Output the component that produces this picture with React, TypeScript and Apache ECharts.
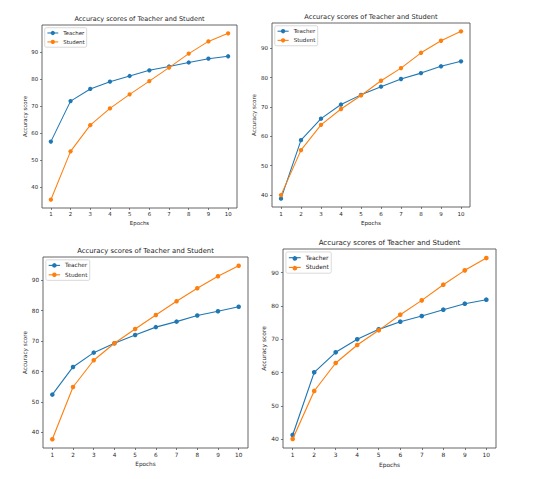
import React, { useEffect, useRef } from 'react';
import * as echarts from 'echarts';

const epochs = [1, 2, 3, 4, 5, 6, 7, 8, 9, 10];
const yTickValues = [40, 50, 60, 70, 80, 90];

const teacher1 = [56.9, 71.9, 76.4, 79.1, 81.2, 83.3, 84.7, 86.2, 87.6, 88.5];
const student1 = [35.4, 53.3, 63.0, 69.2, 74.4, 79.3, 84.3, 89.5, 94.0, 97.0];
const teacher2 = [38.8, 58.7, 66.0, 70.8, 74.1, 76.9, 79.5, 81.5, 83.8, 85.5];
const student2 = [40.0, 55.3, 63.9, 69.3, 73.9, 78.9, 83.2, 88.4, 92.5, 95.7];
const teacher3 = [52.4, 61.5, 66.2, 69.3, 72.0, 74.6, 76.4, 78.4, 79.8, 81.3];
const student3 = [37.7, 54.9, 63.7, 69.3, 74.0, 78.6, 83.1, 87.4, 91.3, 94.8];
const teacher4 = [41.3, 60.1, 66.1, 70.0, 73.0, 75.3, 77.0, 78.9, 80.7, 81.9];
const student4 = [40.1, 54.5, 62.9, 68.3, 72.7, 77.4, 81.7, 86.4, 90.7, 94.4];

const titleText = 'Accuracy scores of Teacher and Student';
const xName = 'Epochs';
const yName = 'Accuracy score';
const seriesNames = ['Teacher', 'Student'];
const seriesColors = ['#1f77b4', '#ff7f0e'];

const panels = [
  { left: 42, top: 25, width: 195, height: 183, s: 0.39, data: [teacher1, student1] },
  { left: 272, top: 23, width: 198, height: 184, s: 0.40, data: [teacher2, student2] },
  { left: 43, top: 257, width: 205, height: 191, s: 0.41, data: [teacher3, student3] },
  { left: 283, top: 249, width: 213, height: 199, s: 0.425, data: [teacher4, student4] },
];

const FONT = 'DejaVu Sans';
const TEXT = '#262626';
const FRAME = '#555';

function margin5(v: { min: number; max: number }, side: 'min' | 'max') {
  const r = v.max - v.min;
  return side === 'min' ? v.min - 0.05 * r : v.max + 0.05 * r;
}

function buildOption() {
  const grid: any[] = [];
  const xAxis: any[] = [];
  const yAxis: any[] = [];
  const series: any[] = [];
  const title: any[] = [];
  const legend: any[] = [];

  panels.forEach((p, i) => {
    const s = p.s;
    const titleFs = 16.67 * s;
    const fs = 13.89 * s;
    const tickLen = 4.86 * s;
    const labelMargin = 9.72 * s;
    const symbolSize = 11 * s;
    const lineW = 2.7 * s;

    grid.push({
      left: p.left,
      top: p.top,
      width: p.width,
      height: p.height,
      show: true,
      borderColor: FRAME,
      borderWidth: 0.9,
      backgroundColor: '#fff',
      containLabel: false,
      outerBoundsMode: 'none',
    });

    xAxis.push({
      type: 'value',
      gridIndex: i,
      min: (v: any) => margin5(v, 'min'),
      max: (v: any) => margin5(v, 'max'),
      name: xName,
      nameLocation: 'middle',
      nameGap: labelMargin + fs * 1.2 + 5.56 * s,
      nameTextStyle: { fontSize: fs, color: TEXT, fontFamily: FONT },
      axisLine: { show: false },
      axisTick: {
        show: true,
        customValues: epochs,
        length: tickLen,
        lineStyle: { color: FRAME, width: 0.8 },
      },
      axisLabel: {
        customValues: epochs,
        fontSize: fs,
        color: TEXT,
        fontFamily: FONT,
        margin: labelMargin,
      },
      splitLine: { show: false },
    });

    yAxis.push({
      type: 'value',
      gridIndex: i,
      min: (v: any) => margin5(v, 'min'),
      max: (v: any) => margin5(v, 'max'),
      name: yName,
      nameLocation: 'middle',
      nameRotate: 90,
      nameGap: labelMargin + fs * 1.27 + 5.56 * s,
      nameTextStyle: { fontSize: fs, color: TEXT, fontFamily: FONT },
      axisLine: { show: false },
      axisTick: {
        show: true,
        customValues: yTickValues,
        length: tickLen,
        lineStyle: { color: FRAME, width: 0.8 },
      },
      axisLabel: {
        customValues: yTickValues,
        fontSize: fs,
        color: TEXT,
        fontFamily: FONT,
        margin: labelMargin,
      },
      splitLine: { show: false },
    });

    title.push({
      text: titleText,
      left: p.left + p.width / 2,
      top: p.top - 8.33 * s - 0.36 * titleFs,
      textAlign: 'center',
      textVerticalAlign: 'middle',
      padding: 0,
      textStyle: { fontSize: titleFs, fontWeight: 'normal', color: TEXT, fontFamily: FONT },
    });

    legend.push({
      data: seriesNames,
      orient: 'vertical',
      left: p.left + 0.5 * fs,
      top: p.top + 0.5 * fs,
      padding: [0.4 * fs, 0.4 * fs, 0.4 * fs, 0.4 * fs],
      itemWidth: 2 * fs,
      itemHeight: symbolSize / 0.8,
      itemGap: 0.5 * fs,
      borderColor: '#d0d0d0',
      borderWidth: 0.8,
      borderRadius: 1.5,
      backgroundColor: 'rgba(255,255,255,0.8)',
      lineStyle: { width: lineW },
      textStyle: { fontSize: fs, color: TEXT, fontFamily: FONT, lineHeight: fs * 1.15 },
    });

    p.data.forEach((vals, k) => {
      series.push({
        type: 'line',
        name: seriesNames[k],
        xAxisIndex: i,
        yAxisIndex: i,
        data: epochs.map((e, j) => [e, vals[j]]),
        symbol: 'circle',
        symbolSize,
        showSymbol: true,
        color: seriesColors[k],
        itemStyle: { color: seriesColors[k] },
        lineStyle: { color: seriesColors[k], width: lineW },
        z: 3 + k,
      });
    });
  });

  return {
    animation: false,
    backgroundColor: '#fff',
    textStyle: { fontFamily: FONT },
    grid,
    xAxis,
    yAxis,
    series,
    title,
    legend,
  };
}

export default function App() {
  const ref = useRef<HTMLDivElement>(null);
  useEffect(() => {
    if (!ref.current) return;
    const chart = echarts.init(ref.current, undefined, { renderer: 'svg' });
    chart.setOption(buildOption() as any);
    return () => chart.dispose();
  }, []);
  return (
    <div
      ref={ref}
      style={{ position: 'absolute', left: 0, top: 0, width: 534, height: 479, background: '#fff' }}
    />
  );
}
